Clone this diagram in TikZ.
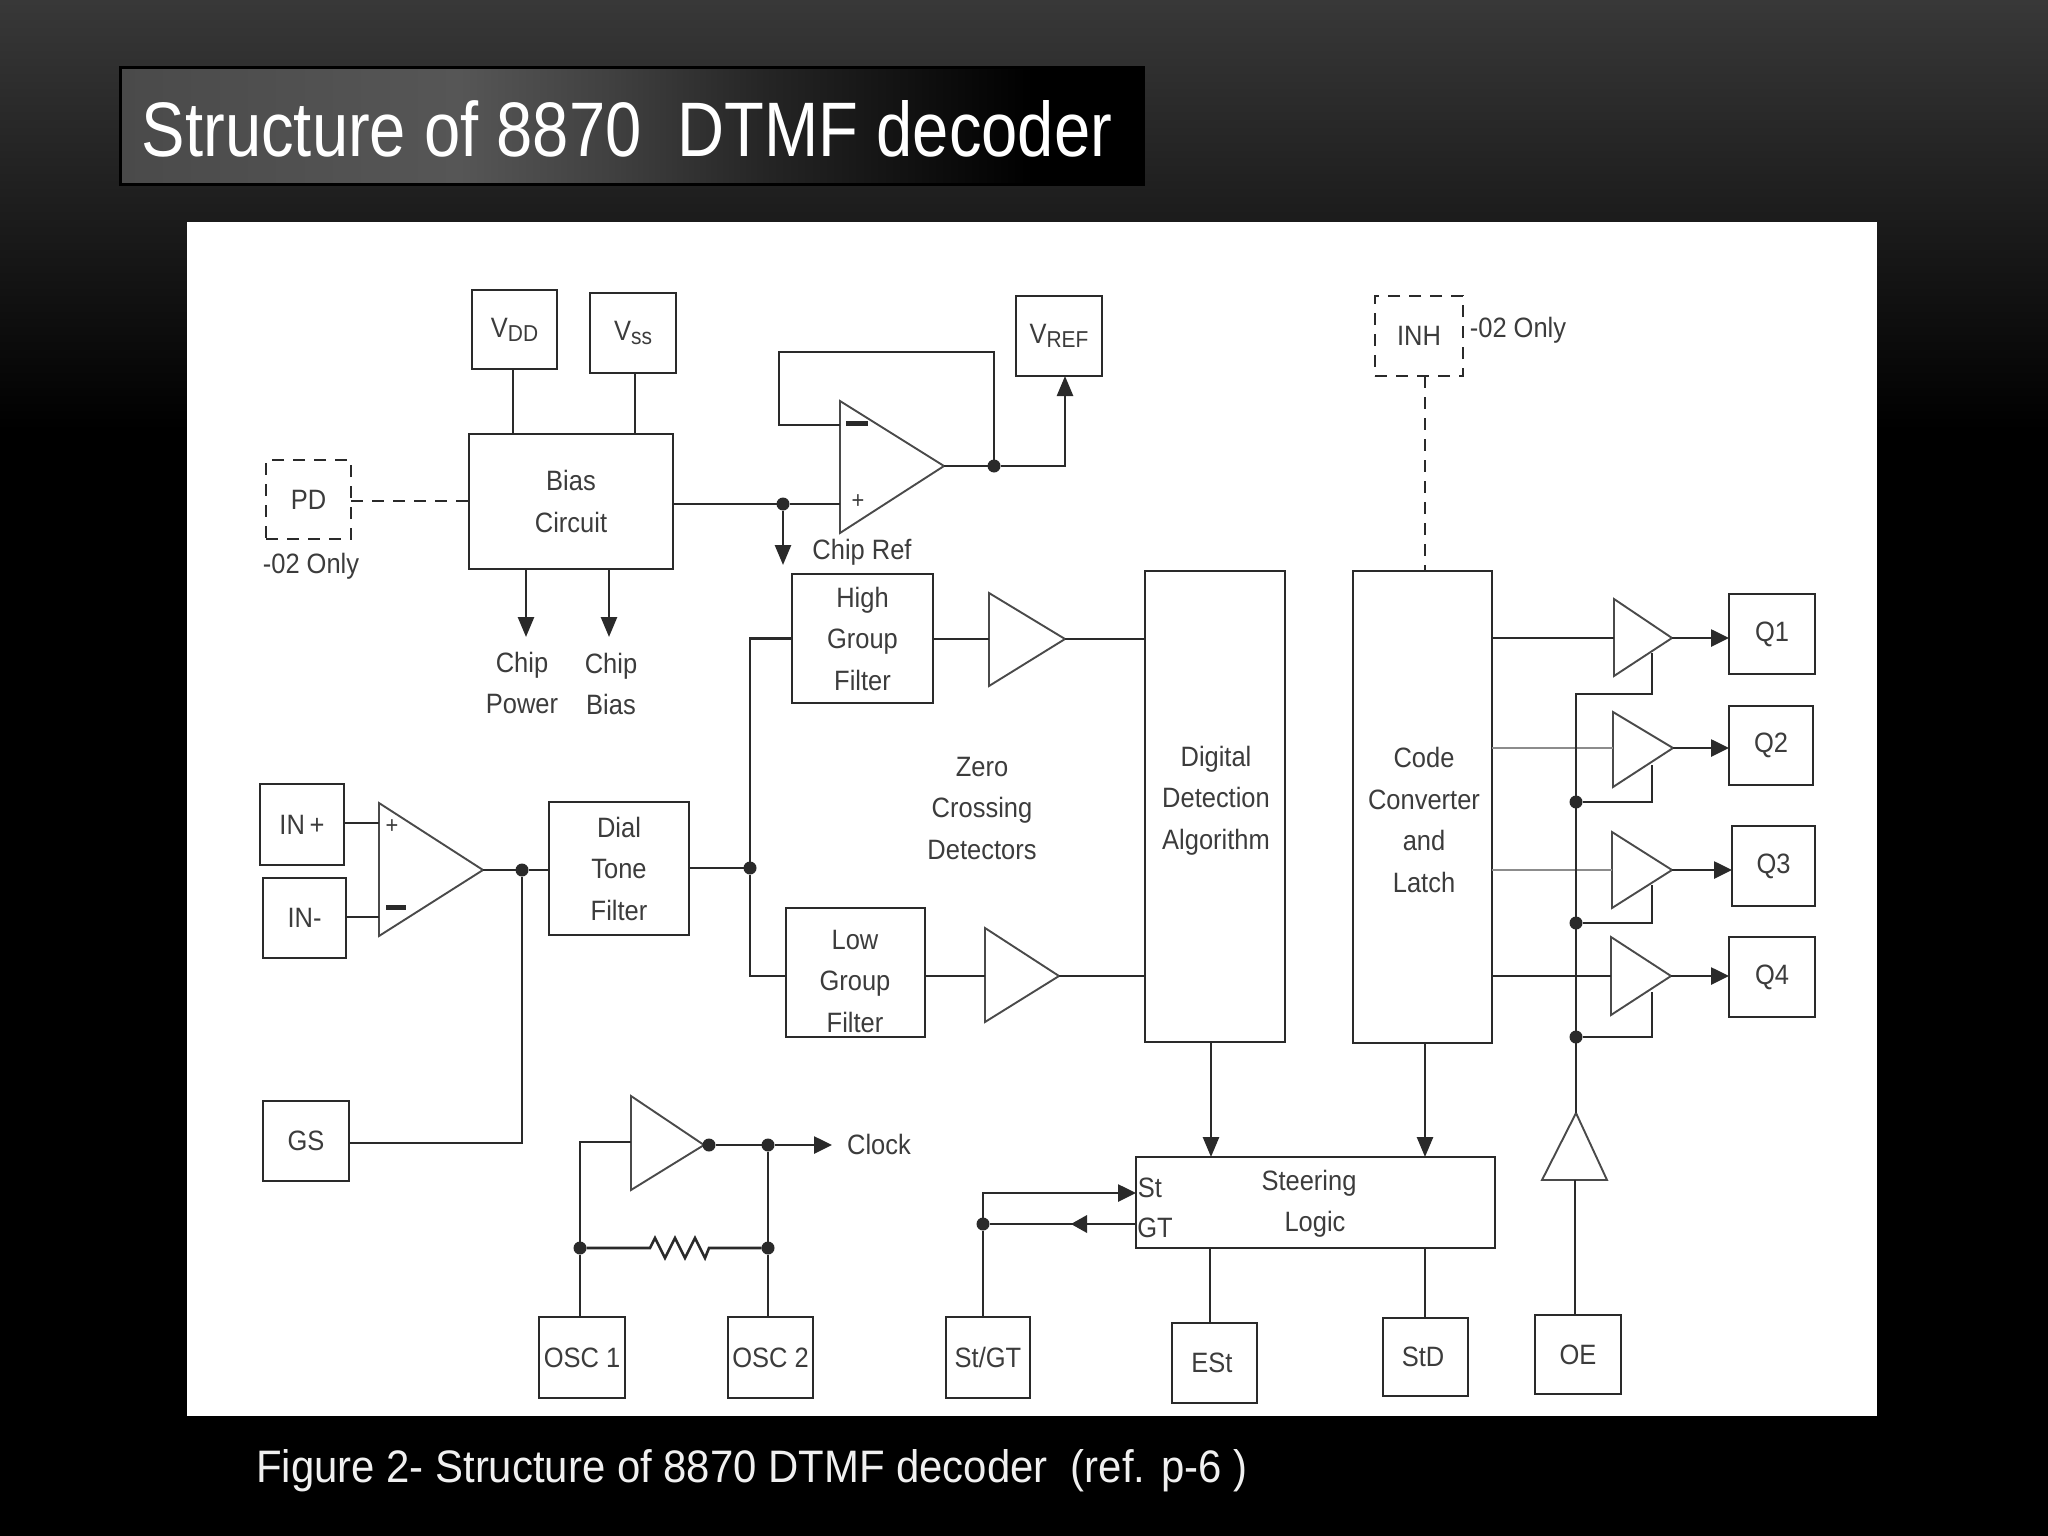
\documentclass[tikz,border=0pt]{standalone}
\usepackage{fontspec}
\setmainfont[FakeStretch=0.91]{Liberation Sans}
\usetikzlibrary{arrows.meta,calc}
\definecolor{ink}{HTML}{2A2A2A}
\definecolor{txt}{HTML}{3C3C3C}
\definecolor{ta}{HTML}{4A4A4A}
\definecolor{tb}{HTML}{565656}
\definecolor{tc}{HTML}{404040}
\definecolor{td}{HTML}{252525}
\definecolor{te}{HTML}{101010}
\tikzset{
  box/.style={draw=ink,line width=2.6pt,inner sep=0pt,outer sep=0pt,align=center,text=txt,font=\fontsize{28}{41.5}\selectfont},
  dbox/.style={box,dash pattern=on 12pt off 9pt},
  lbl/.style={inner sep=0pt,outer sep=0pt,align=center,text=txt,font=\fontsize{28}{41.5}\selectfont},
  wire/.style={draw=ink,line width=2.6pt},
  lwire/.style={draw=black!45,line width=2.4pt},
  dwire/.style={wire,dash pattern=on 12pt off 9pt},
  arr/.style={wire,-{Triangle[length=20pt,width=16pt]}},
  arrs/.style={wire,-{Triangle[length=18pt,width=17pt]}},
  amp/.style={draw=ink!85,line width=1.9pt,line join=miter},
  dot/.style={circle,fill=ink,inner sep=0pt,minimum size=13pt,outer sep=0pt},
}
\newcommand{\bx}[7][box]{%
  \pgfmathsetmacro\bcx{(#3+#5)/2}\pgfmathsetmacro\bcy{(#4+#6)/2}%
  \pgfmathsetmacro\bw{#5-#3}\pgfmathsetmacro\bh{#6-#4}%
  \node[#1,minimum width=\bw pt,minimum height=\bh pt] (#2) at (\bcx,\bcy) {#7};}
% amp: name, xleft, ytop, ybottom, xtip, ytip
\newcommand{\ampl}[6]{%
  \draw[amp] (#2,#3) -- (#5,#6) -- (#2,#4) -- cycle;
  \coordinate (#1) at (#5,#6); \coordinate (#1-in) at (#2,#6);}
\newcommand{\sub}[1]{\raisebox{-4pt}{\fontsize{23}{23}\selectfont #1}}
\begin{document}
\begin{tikzpicture}[x=1pt,y=-1pt]
\useasboundingbox (0,0) rectangle (2048,1536);
\fill[black] (0,0) rectangle (2048,1536);
\shade[top color=black!78,bottom color=black] (0,0) rectangle (2048,430);
% title
\shade[left color=ta,right color=tb] (120,68) rectangle (460,184);
\shade[left color=tb,right color=tc] (459.5,68) rectangle (612,184);
\shade[left color=tc,right color=td] (611.5,68) rectangle (765,184);
\shade[left color=td,right color=te] (764.5,68) rectangle (918,184);
\shade[left color=te,right color=black] (917.5,68) rectangle (1033,184);
\fill[black] (1032.5,68) rectangle (1143,184);
\draw[black,line width=3pt] (120,68) rectangle (1143,184);
\node[inner sep=0pt,text=white,anchor=center] (title) at (627,128.5)
  {\resizebox{970pt}{56pt}{\fontsize{80}{90}\selectfont Structure of 8870\ \ DTMF decoder}};
% panel
\fill[white] (187,222) rectangle (1877,1416);
% boxes
\bx{vdd}{472}{290}{557}{369}{V\sub{DD}}
\bx{vss}{590}{293}{676}{373}{V\sub{ss}}
\bx{bias}{469}{434}{673}{569}{Bias\\Circuit}
\bx[dbox]{pd}{266}{460}{351}{539}{PD}
\bx{vref}{1016}{296}{1102}{376}{V\sub{REF}}
\bx[dbox]{inh}{1375}{296}{1463}{376}{INH}
\bx{high}{792}{574}{933}{703}{High\\Group\\Filter}
\bx{low}{786}{908}{925}{1037}{}
\bx{dial}{549}{802}{689}{935}{Dial\\Tone\\Filter}
\bx{digital}{1145}{571}{1285}{1042}{}
\bx{code}{1353}{571}{1492}{1043}{}
\bx{steer}{1136}{1157}{1495}{1248}{}
\bx{inp}{260}{784}{344}{865}{IN\,+}
\bx{inm}{263}{878}{346}{958}{IN-}
\bx{gs}{263}{1101}{349}{1181}{GS}
\bx{q1}{1729}{594}{1815}{674}{Q1}
\bx{q2}{1729}{706}{1813}{785}{Q2}
\bx{q3}{1732}{826}{1815}{906}{Q3}
\bx{q4}{1729}{937}{1815}{1017}{Q4}
\bx{osca}{539}{1317}{625}{1398}{OSC 1}
\bx{oscb}{728}{1317}{813}{1398}{OSC 2}
\bx{stgt}{946}{1317}{1030}{1398}{St/GT}
\bx{est}{1172}{1323}{1257}{1403}{\kern-5pt ESt}
\bx{std}{1383}{1318}{1468}{1396}{\kern-5pt StD}
\bx{oe}{1535}{1315}{1621}{1394}{OE}
% labels
\node[lbl] (lowt) at (855,981) {Low\\Group\\Filter};
\node[lbl] (digt) at (1216,800.5) {Digital\\Detection\\Algorithm};
\node[lbl] (codet) at (1424,820) {Code\\Converter\\and\\Latch};
\node[lbl] (steert) at (1309,1183) {Steering};
\node[lbl] (logict) at (1315,1224) {Logic};
\node[lbl] (stt) at (1150,1188) {St};
\node[lbl] (gtt) at (1155,1228) {GT};
\node[lbl] (zero) at (982,808) {Zero\\Crossing\\Detectors};
\node[lbl] (chipref) at (862,552) {Chip Ref};
\node[lbl] (chipp) at (522,683) {Chip\\Power};
\node[lbl] (chipb) at (611,684) {Chip\\Bias};
\node[lbl] (only1) at (311,566) {-02 Only};
\node[lbl] (only2) at (1518,330) {-02 Only};
\node[lbl] (clock) at (879,1144) {Clock};
\node[lbl,font=\fontsize{24}{24}\selectfont] (pplus) at (858,502) {+};
\node[lbl,font=\fontsize{24}{24}\selectfont] (iplus) at (392,827) {+};
\fill[ink] (846,421) rectangle (868,426);
\fill[ink] (386,905) rectangle (406,910);
% amplifiers
\ampl{refamp}{840}{401}{533}{944}{466}
\ampl{inamp}{379}{803}{936}{483}{870}
\ampl{hamp}{989}{593}{686}{1065}{639}
\ampl{lamp}{985}{928}{1022}{1059}{976}
\ampl{clkamp}{631}{1096}{1190}{704}{1145}
\ampl{a1}{1614}{599}{676}{1672}{638}
\ampl{a2}{1613}{712}{787}{1673}{748}
\ampl{a3}{1612}{832}{908}{1672}{870}
\ampl{a4}{1611}{937}{1015}{1671}{976}
\draw[amp] (1576,1113) coordinate (oetip) -- (1607,1180) -- (1542,1180) -- cycle;
\coordinate (oebase) at (1575,1180);
% junctions
\node[dot] (jbias) at (783,504) {};
\node[dot] (jref) at (994,466) {};
\node[dot] (jin) at (522,870) {};
\node[dot] (jdial) at (750,868) {};
\node[dot] (jclk1) at (709,1145) {};
\node[dot] (jclk2) at (768,1145) {};
\node[dot] (jr1) at (580,1248) {};
\node[dot] (jr2) at (768,1248) {};
\node[dot] (jst) at (983,1224) {};
\node[dot] (j2) at (1576,802) {};
\node[dot] (j3) at (1576,923) {};
\node[dot] (j4) at (1576,1037) {};
% helper points
\coordinate (fbtl) at (779,352);
\coordinate (refin) at (840,425);
\coordinate (refdn) at (783,565);
\coordinate (busb) at (1576,694);
\coordinate (e1) at (1652,653);
\coordinate (e2) at (1652,765);
\coordinate (e3) at (1652,885);
\coordinate (e4) at (1652,992);
\coordinate (vrefin) at (1065,376);
\coordinate (inhout) at (1425,376);
% power + bias
\draw[wire] (513,369) -- (513,434);
\draw[wire] (635,373) -- (635,434);
\draw[dwire] (351,501) -- (469,501);
\draw[arr] (526,569) -- (526,637);
\draw[arr] (609,569) -- (609,637);
\draw[wire] (bias.east |- jbias) -- (jbias) -- (jbias -| refamp-in);
\draw[arr] (jbias) -- (refdn);
\draw[wire] (refin) -| (fbtl) -- (fbtl -| jref) -- (jref);
\draw[wire] (refamp) -- (jref);
\draw[arr] (jref) -- (jref -| vrefin) -- (vrefin);
\draw[dwire] (inhout) -- (inhout |- code.north);
% input
\draw[wire] (344,823) -- (379,823);
\draw[wire] (346,917) -- (379,917);
\draw[wire] (inamp) -- (jin) -- (dial.west |- jin);
\draw[wire] (349,1143) -| (jin);
\draw[wire] (dial.east |- jdial) -- (jdial);
\draw[wire] (high.west) -| (jdial);
\draw[wire] (low.west |- lamp) -| (jdial);
\draw[wire] (high.east |- hamp) -- (hamp-in);
\draw[wire] (hamp) -- (digital.west |- hamp);
\draw[wire] (low.east |- lamp) -- (lamp-in);
\draw[wire] (lamp) -- (digital.west |- lamp);
% outputs
\draw[wire] (code.east |- a1) -- (a1-in);
\draw[lwire] (code.east |- a2) -- (a2-in);
\draw[lwire] (code.east |- a3) -- (a3-in);
\draw[wire] (code.east |- a4) -- (a4-in);
\draw[arrs] (a1) -- (q1.west |- a1);
\draw[arrs] (a2) -- (q2.west |- a2);
\draw[arrs] (a3) -- (q3.west |- a3);
\draw[arrs] (a4) -- (q4.west |- a4);
\draw[wire] (oetip) -- (busb) -- (busb -| e1) -- (e1);
\draw[wire] (j2) -| (e2);
\draw[wire] (j3) -| (e3);
\draw[wire] (j4) -| (e4);
\draw[wire] (oe.north -| oebase) -- (oebase);
% steering
\draw[arr] (1211,1042) -- (1211,1157);
\draw[arr] (1425,1043) -- (1425,1157);
\draw[arrs] (jst) -- (983,1193) -- (1136,1193);
\draw[wire] (steer.west |- jst) -- (jst) -- (983,1317);
\fill[ink] (1071,1224) -- (1087,1215) -- (1087,1233) -- cycle;
\draw[wire] (1210,1248) -- (1210,1323);
\draw[wire] (1425,1248) -- (1425,1318);
% clock
\draw[wire] (clkamp-in) ++(0,-3) -- (580,1142) -- (jr1) -- (580,1317);
\draw[wire] (clkamp) -- (jclk1) -- (jclk2);
\draw[arrs] (jclk2) -- (832,1145);
\draw[wire] (jclk2) -- (jr2) -- (768,1317);
\draw[wire,line join=miter] (jr1) -- (650,1248) -- (655,1238) -- (665,1258) -- (675,1238) -- (685,1258) -- (695,1238) -- (705,1258) -- (709,1248) -- (jr2);
% footer
\node[inner sep=0pt,anchor=west,text=black!6] (foot) at (256,1471)
  {\resizebox{991pt}{33pt}{\fontsize{48}{56}\selectfont Figure 2- Structure of 8870 DTMF decoder\ \ (ref. p-6 )}};
\end{tikzpicture}
\end{document}
